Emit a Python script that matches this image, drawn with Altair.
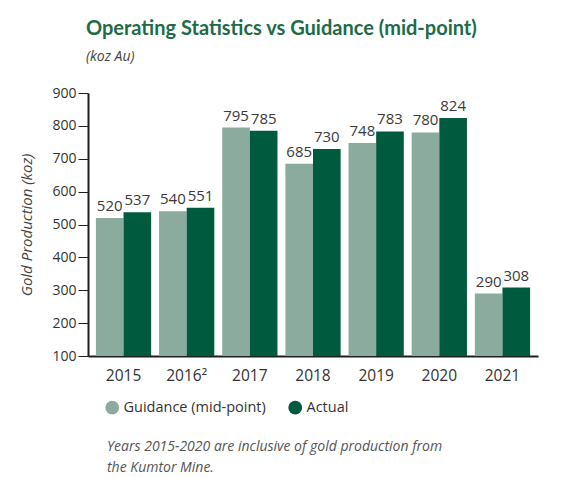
import altair as alt
import pandas as pd

years = ["2015", "2016²", "2017", "2018", "2019", "2020", "2021"]
guidance = [520, 540, 795, 685, 748, 780, 290]
actual = [537, 551, 785, 730, 783, 824, 308]
series = ["Guidance (mid-point)", "Actual"]
colors = ["#8cab9f", "#005a3e"]
footnote = ["Years 2015-2020 are inclusive of gold production from", "the Kumtor Mine."]

rows = []
for i, yr in enumerate(years):
    rows.append({"year": yr, "series": series[0], "value": guidance[i]})
    rows.append({"year": yr, "series": series[1], "value": actual[i]})
df = pd.DataFrame(rows)

font = "Open Sans"
title_font = "Lato"

base = alt.Chart(df).encode(
    x=alt.X("year:N", sort=years,
            scale=alt.Scale(paddingInner=0.125, paddingOuter=0.125),
            axis=alt.Axis(title=None, labelAngle=0, ticks=False, labelPadding=12,
                          labelFontSize=15.5, labelColor="#333", labelFont=font,
                          domainColor="#1f1f1f", domainWidth=2)),
    xOffset=alt.XOffset("series:N", sort=series,
                        scale=alt.Scale(paddingInner=0, paddingOuter=0)),
    y=alt.Y("value:Q",
            scale=alt.Scale(domain=[100, 900], nice=False, zero=False),
            axis=alt.Axis(title="Gold Production (koz)", values=list(range(100, 1000, 100)),
                          grid=False, tickSize=10, tickColor="#1f1f1f", tickWidth=1,
                          labelPadding=2, labelFontSize=14, labelColor="#333", labelFont=font,
                          labelOverlap=False,
                          domainColor="#1f1f1f", domainWidth=2,
                          titleFont=font, titleFontStyle="italic", titleFontWeight="normal",
                          titleFontSize=15, titleColor="#444", titlePadding=17)),
)

bars = base.mark_bar().encode(
    y2=alt.datum(100),
    color=alt.Color("series:N", sort=series,
                    scale=alt.Scale(domain=series, range=colors),
                    legend=alt.Legend(title=None, orient="none", legendX=17, legendY=307,
                                      direction="horizontal", symbolType="circle",
                                      symbolSize=190, symbolStrokeWidth=0,
                                      labelFont=font, labelFontSize=14.5, labelColor="#333",
                                      labelOffset=4, columnPadding=22)),
)

labels = base.mark_text(baseline="bottom", dy=-4, fontSize=15,
                        font=font, color="#3a3a3a").encode(text="value:Q")

note_df = pd.DataFrame({"note": [footnote]})
note = alt.Chart(note_df).mark_text(align="left", baseline="middle", fontSize=14,
                                    font=font, fontStyle="italic", color="#555",
                                    lineHeight=21).encode(
    x=alt.value(19),
    y=alt.value(354),
    text="note:N",
)

chart = alt.layer(bars, labels, note).properties(
    width=450,
    height=263,
    autosize="none",
    padding={"left": 80, "top": 85, "right": 18, "bottom": 121},
    title=alt.Title("Operating Statistics vs Guidance (mid-point)",
                    subtitle="(koz Au)", anchor="start", frame="group", dx=-2,
                    font=title_font, fontSize=20, fontWeight="bold", color="#1d6b47",
                    subtitleFont=font, subtitleFontSize=14, subtitleFontStyle="italic",
                    subtitleColor="#444", subtitlePadding=11, offset=22),
).configure_view(stroke=None)

chart.save("out.html", embed_options={"renderer": "svg", "actions": False})
